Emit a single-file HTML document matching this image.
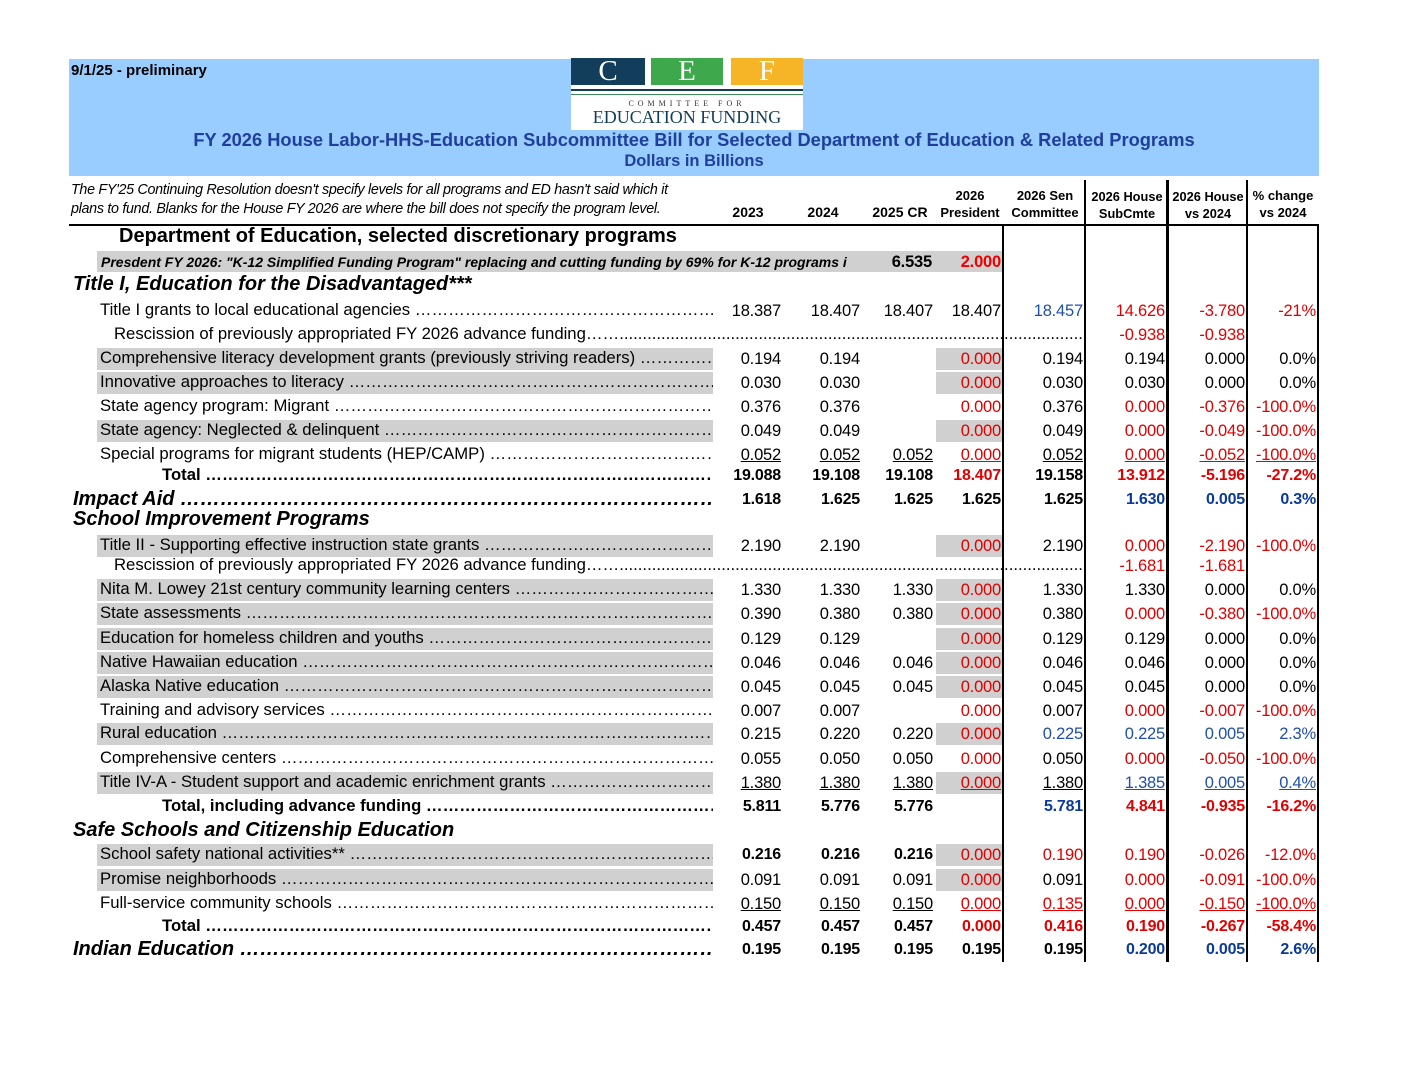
<!DOCTYPE html>
<html><head><meta charset="utf-8">
<style>
body{margin:0;width:1408px;height:1088px;background:#fff;position:relative;overflow:hidden;font-family:"Liberation Sans",Arial,sans-serif;}
.a{position:absolute;white-space:nowrap;}
.lbl{position:absolute;white-space:nowrap;overflow:hidden;font-size:16.7px;letter-spacing:0;line-height:22px;}
.num{position:absolute;text-align:right;font-size:16.5px;letter-spacing:-0.2px;line-height:20px;}
.hd{position:absolute;text-align:center;font-family:"Liberation Sans Narrow","Liberation Sans",sans-serif;font-weight:bold;font-size:13px;line-height:17px;}
.vl{position:absolute;background:#000;}
</style></head><body>
<div class="a" style="left:69px;top:59px;width:1250px;height:117px;background:#99ccff;"></div>
<div class="a" style="left:71px;top:62px;font-size:15px;font-weight:bold;">9/1/25 - preliminary</div>
<div class="a" style="left:571px;top:58px;width:232px;height:72px;background:#fff;">
 <div class="a" style="left:0;top:0;width:74px;height:27px;background:#123e5c;color:#fff;font-family:'Liberation Serif',serif;font-size:29px;text-align:center;line-height:27px;">C</div>
 <div class="a" style="left:80px;top:0;width:72px;height:27px;background:#3ea84c;color:#fff;font-family:'Liberation Serif',serif;font-size:29px;text-align:center;line-height:27px;">E</div>
 <div class="a" style="left:160px;top:0;width:72px;height:27px;background:#f6b526;color:#fff;font-family:'Liberation Serif',serif;font-size:29px;text-align:center;line-height:27px;">F</div>
 <div class="a" style="left:0;top:31px;width:232px;height:2px;background:#123e5c;"></div>
 <div class="a" style="left:0;top:36px;width:232px;height:1px;background:#3a8a5a;"></div>
 <div class="a" style="left:0;top:41px;width:232px;text-align:center;font-family:'Liberation Serif',serif;font-size:8px;letter-spacing:4px;color:#333;">COMMITTEE FOR</div>
 <div class="a" style="left:0;top:49px;width:232px;text-align:center;font-family:'Liberation Serif',serif;font-size:18px;color:#123e5c;">EDUCATION FUNDING</div>
</div>
<div class="a" style="left:69px;top:129px;width:1250px;text-align:center;font-size:18.3px;font-weight:bold;color:#1f3f9c;">FY 2026 House Labor-HHS-Education Subcommittee Bill for Selected Department of Education &amp; Related Programs</div>
<div class="a" style="left:69px;top:152px;width:1250px;text-align:center;font-size:16.5px;font-weight:bold;color:#1f3f9c;">Dollars in Billions</div>
<div class="a" style="left:71px;top:181px;font-size:14.3px;font-style:italic;line-height:19px;letter-spacing:-0.3px;">The FY'25 Continuing Resolution doesn't specify levels for all programs and ED hasn't said which it<br>plans to fund. Blanks for the House FY 2026 are where the bill does not specify the program level.</div>
<div class="hd" style="left:718px;top:204px;width:60px;font-size:14px;">2023</div>
<div class="hd" style="left:793px;top:204px;width:60px;font-size:14px;">2024</div>
<div class="hd" style="left:864px;top:204px;width:72px;font-size:14px;">2025 CR</div>
<div class="hd" style="left:936px;top:187px;width:68px;">2026<br>President</div>
<div class="hd" style="left:1004px;top:187px;width:82px;">2026 Sen<br>Committee</div>
<div class="hd" style="left:1086px;top:188px;width:82px;font-size:12.8px;">2026 House<br>SubCmte</div>
<div class="hd" style="left:1167px;top:188px;width:82px;font-size:12.8px;">2026 House<br>vs 2024</div>
<div class="hd" style="left:1248px;top:187px;width:70px;">% change<br>vs 2024</div>
<div class="vl" style="left:69px;top:224px;width:1250px;height:2px;"></div>
<div class="vl" style="left:1002px;top:225px;width:1.5px;height:737px;"></div>
<div class="vl" style="left:1084px;top:180px;width:2px;height:782px;"></div>
<div class="vl" style="left:1166px;top:180px;width:3px;height:782px;"></div>
<div class="vl" style="left:1246px;top:180px;width:2px;height:782px;"></div>
<div class="vl" style="left:1317px;top:225px;width:2px;height:737px;"></div>
<div class="a" style="left:119px;top:225px;font-size:20px;font-weight:bold;">Department of Education, selected discretionary programs</div>
<div class="a" style="left:97px;top:251px;width:905px;height:21px;background:#d0d0d0;"></div>
<div class="a" style="left:101px;top:252px;width:760px;overflow:hidden;font-size:14px;font-weight:bold;font-style:italic;line-height:20px;">Presdent FY 2026: "K-12 Simplified Funding Program" replacing and cutting funding by 69% for K-12 programs i</div>
<div class="num" style="left:866px;top:252px;width:66px;font-weight:bold;">6.535</div>
<div class="num" style="left:936px;top:252px;width:65px;font-weight:bold;color:#e00;">2.000</div>
<div class="a" style="left:73px;top:273px;font-size:20px;font-weight:bold;font-style:italic;">Title I, Education for the Disadvantaged***</div>
<div id="rows"></div>
<script>
const R='#e00000',B='#2050a8',BB='#0b3a9a';
const labels=["Title I grants to local educational agencies","Rescission of previously appropriated FY 2026 advance funding","Comprehensive literacy development grants (previously striving readers)","Innovative approaches to literacy","State agency program: Migrant","State agency: Neglected & delinquent","Special programs for migrant students (HEP/CAMP)","Total","Impact Aid","School Improvement Programs","Title II - Supporting effective instruction state grants","Rescission of previously appropriated FY 2026 advance funding","Nita M. Lowey 21st century community learning centers","State assessments","Education for homeless children and youths","Native Hawaiian education","Alaska Native education","Training and advisory services","Rural education","Comprehensive centers","Title IV-A - Student support and academic enrichment grants","Total, including advance funding","Safe Schools and Citizenship Education","School safety national activities**","Promise neighborhoods","Full-service community schools","Total","Indian Education"];
const kinds=["n","r","n","n","n","n","n","t","s","h","n","r","n","n","n","n","n","n","n","n","n","t","h","n","n","n","t","s"];
const greyRows=[0,0,1,1,0,1,0,0,0,0,1,0,1,1,1,1,1,0,1,0,1,0,0,1,1,0,0,0];
const underlineRows=[0,0,0,0,0,0,1,0,0,0,0,0,0,0,0,0,0,0,0,0,1,0,0,0,0,1,0,0];
const values=[
["18.387","18.407","18.407","18.407","18.457","14.626","-3.780","-21%"],
["","","","","","-0.938","-0.938",""],
["0.194","0.194","","0.000","0.194","0.194","0.000","0.0%"],
["0.030","0.030","","0.000","0.030","0.030","0.000","0.0%"],
["0.376","0.376","","0.000","0.376","0.000","-0.376","-100.0%"],
["0.049","0.049","","0.000","0.049","0.000","-0.049","-100.0%"],
["0.052","0.052","0.052","0.000","0.052","0.000","-0.052","-100.0%"],
["19.088","19.108","19.108","18.407","19.158","13.912","-5.196","-27.2%"],
["1.618","1.625","1.625","1.625","1.625","1.630","0.005","0.3%"],
["","","","","","","",""],
["2.190","2.190","","0.000","2.190","0.000","-2.190","-100.0%"],
["","","","","","-1.681","-1.681",""],
["1.330","1.330","1.330","0.000","1.330","1.330","0.000","0.0%"],
["0.390","0.380","0.380","0.000","0.380","0.000","-0.380","-100.0%"],
["0.129","0.129","","0.000","0.129","0.129","0.000","0.0%"],
["0.046","0.046","0.046","0.000","0.046","0.046","0.000","0.0%"],
["0.045","0.045","0.045","0.000","0.045","0.045","0.000","0.0%"],
["0.007","0.007","","0.000","0.007","0.000","-0.007","-100.0%"],
["0.215","0.220","0.220","0.000","0.225","0.225","0.005","2.3%"],
["0.055","0.050","0.050","0.000","0.050","0.000","-0.050","-100.0%"],
["1.380","1.380","1.380","0.000","1.380","1.385","0.005","0.4%"],
["5.811","5.776","5.776","","5.781","4.841","-0.935","-16.2%"],
["","","","","","","",""],
["0.216","0.216","0.216","0.000","0.190","0.190","-0.026","-12.0%"],
["0.091","0.091","0.091","0.000","0.091","0.000","-0.091","-100.0%"],
["0.150","0.150","0.150","0.000","0.135","0.000","-0.150","-100.0%"],
["0.457","0.457","0.457","0.000","0.416","0.190","-0.267","-58.4%"],
["0.195","0.195","0.195","0.195","0.195","0.200","0.005","2.6%"]];
const colors=[
"kkkkbrrr","kkkkkrrr","kkkrkkkk","kkkrkkkk","kkkrkrrr","kkkrkrrr","kkkrkrrr","kkkrkrrr","kkkkkBBB","kkkkkkkk",
"kkkrkrrr","kkkkkrrr","kkkrkkkk","kkkrkrrr","kkkrkkkk","kkkrkkkk","kkkrkkkk","kkkrkrrr","kkkrbbbb","kkkrkrrr",
"kkkrkbbb","kkkkBrrr","kkkkkkkk","kkkrrrrr","kkkrkrrr","kkkrrrrr","kkkrrrrr","kkkkkBBB"];
const rowY=[311,335,359,383,407,431,455,476,500,520,546,566,590,614,639,663,687,711,734,759,783,807,831,855,880,904,927,950];
const colRight=[781,860,933,1001,1083,1165,1245,1316];
const colW=[70,70,70,65,75,75,75,70];
const root=document.getElementById('rows');
const dots=" ……………………………………………………………………………………………………………………………………………………………………………………………………………………………";
const cmap={k:'#000',r:R,b:B,B:BB};
for(let i=0;i<labels.length;i++){
  const k=kinds[i],y=rowY[i];
  if(greyRows[i]){
    const g=document.createElement('div');g.className='a';
    
    
    g.style.cssText=`left:97px;top:${y-11}px;width:616px;height:22px;background:#d0d0d0;`;root.appendChild(g);
    if(values[i][3]==='0.000'){const p=document.createElement('div');p.className='a';
      
      
      p.style.cssText=`left:936px;top:${y-11}px;width:66px;height:22px;background:#d0d0d0;`;root.appendChild(p);}
  }
  const l=document.createElement('div');l.className='lbl';
  
  
  let left=100,w=613,st='';
  if(k==='r'){left=114;w=971;}
  if(k==='t'){left=162;w=551;st='font-weight:bold;';}
  if(k==='s'){left=73;w=640;st='font-weight:bold;font-style:italic;font-size:20px;';}
  if(k==='h'){left=73;w=700;st='font-weight:bold;font-style:italic;font-size:20px;';}
  l.style.cssText=`left:${left}px;top:${y-12}px;width:${w}px;${st}`;
  l.textContent=labels[i]+(k==='h'?'':(k==='r'?"……"+"....".repeat(120):dots));
  root.appendChild(l);
  for(let c=0;c<8;c++){
    const v=values[i][c];if(!v)continue;
    const n=document.createElement('div');n.className='num';
    
    
    const bold=(k==='t'||k==='s'||(i===23&&c<3));
    n.style.cssText=`left:${colRight[c]-colW[c]}px;top:${y-10}px;width:${colW[c]}px;color:${cmap[colors[i][c]]};${bold?'font-weight:bold;font-size:16px;':''}${underlineRows[i]?'text-decoration:underline;':''}`;
    n.textContent=v;root.appendChild(n);
  }
}
</script>
</body></html>
